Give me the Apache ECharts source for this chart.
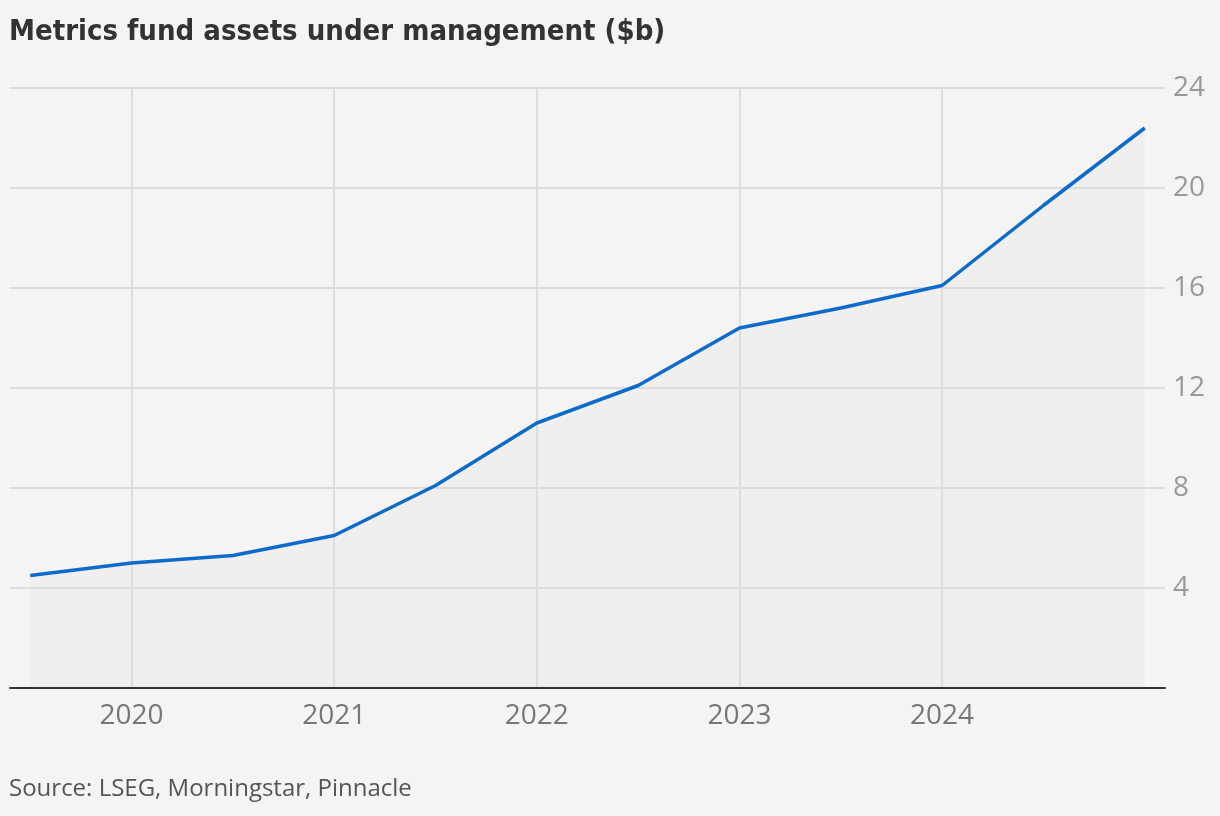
<!DOCTYPE html>
<html>
<head>
<meta charset="utf-8">
<script src="https://cdn.jsdelivr.net/npm/echarts@6/dist/echarts.min.js"></script>
<style>
html,body{margin:0;padding:0;background:#f4f4f4;}
#chart{width:1220px;height:816px;}
</style>
</head>
<body>
<div id="chart"></div>
<script>
const periods = [2019.5, 2020, 2020.5, 2021, 2021.5, 2022, 2022.5, 2023, 2023.5, 2024, 2024.5, 2025];
const aum = [4.5, 5.0, 5.3, 6.1, 8.1, 10.6, 12.1, 14.4, 15.2, 16.1, 19.3, 22.4];
const yearTicks = [2020, 2021, 2022, 2023, 2024];
const titleText = 'Metrics fund assets under management ($b)';
const sourceText = 'Source: LSEG, Morningstar, Pinnacle';

const points = periods.map((p, i) => [p, aum[i]]);
const chart = echarts.init(document.getElementById('chart'));
chart.setOption({
  backgroundColor: '#f4f4f4',
  animation: false,
  title: [{
    text: titleText,
    left: 4, top: 13,
    textStyle: { fontFamily: 'DejaVu Sans Condensed', fontWeight: 'bold', fontSize: 29, color: '#333333' }
  }, {
    text: sourceText,
    left: 4, top: 772,
    textStyle: { fontFamily: 'Open Sans', fontWeight: 'normal', fontSize: 24, color: '#555555' }
  }],
  grid: { left: 10, right: 55, top: 88, bottom: 128, containLabel: false },
  xAxis: {
    type: 'value', min: 2019.4, max: 2025.1, z: 5,
    axisLine: { show: true, onZero: false, lineStyle: { color: '#333333', width: 2 } },
    axisTick: { show: false, customValues: yearTicks },
    axisLabel: { customValues: yearTicks, fontFamily: 'Open Sans', fontSize: 28, color: '#777777', margin: 14, formatter: v => String(v) },
    splitLine: { show: true, lineStyle: { color: '#dddddd', width: 2 } }
  },
  yAxis: {
    type: 'value', position: 'right', min: 0, max: 24, interval: 4, z: 5,
    axisLine: { show: false }, axisTick: { show: false },
    axisLabel: { fontFamily: 'Open Sans', fontSize: 28, color: '#999999', margin: 8, formatter: v => v === 0 ? '' : String(v) },
    splitLine: { show: true, lineStyle: { color: '#dddddd', width: 2 } }
  },
  series: [{
    type: 'line',
    data: points,
    showSymbol: false,
    lineStyle: { width: 0, opacity: 0 },
    areaStyle: { color: '#efefef', opacity: 1 },
    z: 1
  }, {
    type: 'line',
    data: points,
    showSymbol: false,
    lineStyle: { color: '#0f6bc9', width: 3.5 },
    z: 10
  }]
});
</script>
</body>
</html>
